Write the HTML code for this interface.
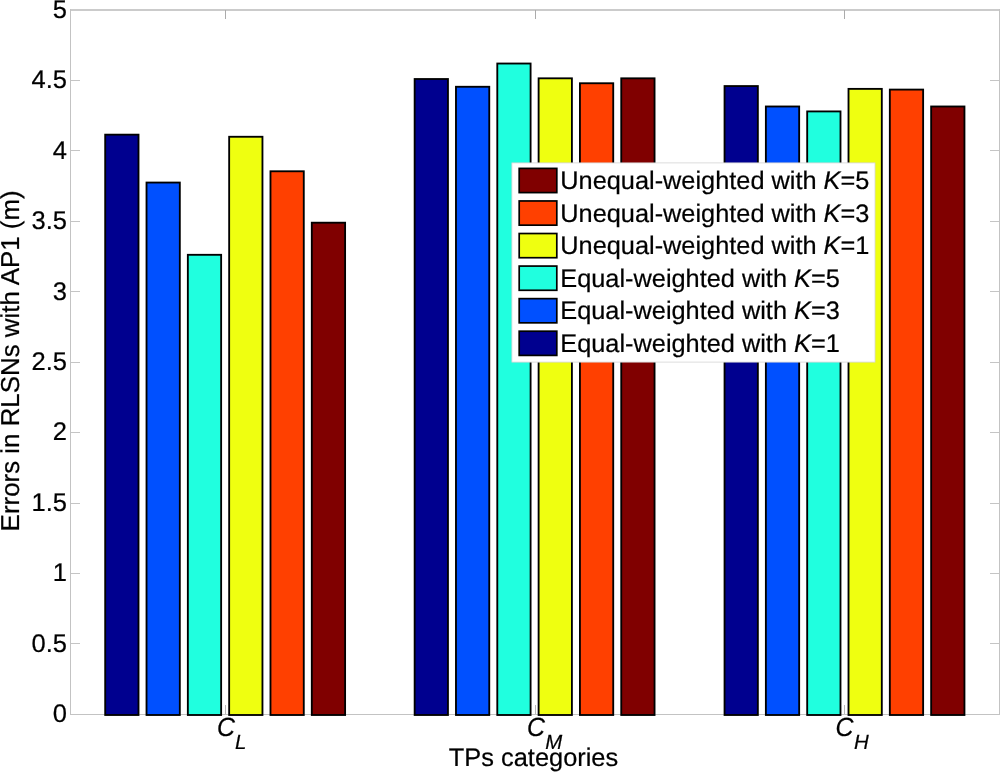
<!DOCTYPE html>
<html><head><meta charset="utf-8"><title>Errors in RLSNs with AP1</title>
<style>html,body{margin:0;padding:0;background:#fff;}svg{display:block;}text{font-family:'Liberation Sans', sans-serif;fill:#000;stroke:#000;stroke-width:0.22px;text-rendering:geometricPrecision;}</style></head><body>
<svg width="1000" height="772" viewBox="0 0 1000 772">
<rect x="0" y="0" width="1000" height="772" fill="#fff"/>
<g shape-rendering="crispEdges" stroke="none">
<rect x="70" y="9" width="930" height="2" fill="#cbcbcb"/>
<rect x="70" y="9" width="1" height="706" fill="#c3c3c3"/>
<rect x="999" y="9" width="1" height="706" fill="#c3c3c3"/>
<rect x="70" y="714" width="930" height="1" fill="#c3c3c3"/>
<rect x="71" y="643" width="9" height="1" fill="#c5c5c5"/>
<rect x="990" y="643" width="9" height="1" fill="#c5c5c5"/>
<rect x="71" y="573" width="9" height="1" fill="#c5c5c5"/>
<rect x="990" y="573" width="9" height="1" fill="#c5c5c5"/>
<rect x="71" y="503" width="9" height="1" fill="#c5c5c5"/>
<rect x="990" y="503" width="9" height="1" fill="#c5c5c5"/>
<rect x="71" y="432" width="9" height="1" fill="#c5c5c5"/>
<rect x="990" y="432" width="9" height="1" fill="#c5c5c5"/>
<rect x="71" y="362" width="9" height="1" fill="#c5c5c5"/>
<rect x="990" y="362" width="9" height="1" fill="#c5c5c5"/>
<rect x="71" y="291" width="9" height="1" fill="#c5c5c5"/>
<rect x="990" y="291" width="9" height="1" fill="#c5c5c5"/>
<rect x="71" y="221" width="9" height="1" fill="#c5c5c5"/>
<rect x="990" y="221" width="9" height="1" fill="#c5c5c5"/>
<rect x="71" y="150" width="9" height="1" fill="#c5c5c5"/>
<rect x="990" y="150" width="9" height="1" fill="#c5c5c5"/>
<rect x="71" y="80" width="9" height="1" fill="#c5c5c5"/>
<rect x="990" y="80" width="9" height="1" fill="#c5c5c5"/>
<rect x="225" y="705" width="1" height="9" fill="#b8b8b8"/>
<rect x="225" y="10" width="1" height="9" fill="#ababab"/>
<rect x="535" y="705" width="1" height="9" fill="#b8b8b8"/>
<rect x="535" y="10" width="1" height="9" fill="#ababab"/>
<rect x="844" y="705" width="1" height="9" fill="#b8b8b8"/>
<rect x="844" y="10" width="1" height="9" fill="#ababab"/>
</g>
<g stroke="#000" stroke-width="1.85" stroke-linejoin="miter">
<rect x="105.20" y="134.66" width="33.30" height="580.34" fill="#00008f"/>
<rect x="146.52" y="182.55" width="33.30" height="532.45" fill="#0050ff"/>
<rect x="187.84" y="254.81" width="33.30" height="460.19" fill="#20ffdf"/>
<rect x="229.16" y="136.77" width="33.30" height="578.23" fill="#efff10"/>
<rect x="270.48" y="171.28" width="33.30" height="543.72" fill="#ff4000"/>
<rect x="311.80" y="222.70" width="33.30" height="492.30" fill="#800000"/>
<rect x="414.65" y="79.02" width="33.30" height="635.98" fill="#00008f"/>
<rect x="455.97" y="86.77" width="33.30" height="628.23" fill="#0050ff"/>
<rect x="497.29" y="63.53" width="33.30" height="651.47" fill="#20ffdf"/>
<rect x="538.61" y="78.32" width="33.30" height="636.68" fill="#efff10"/>
<rect x="579.93" y="83.25" width="33.30" height="631.75" fill="#ff4000"/>
<rect x="621.25" y="78.32" width="33.30" height="636.68" fill="#800000"/>
<rect x="724.55" y="86.06" width="33.30" height="628.94" fill="#00008f"/>
<rect x="765.87" y="106.49" width="33.30" height="608.51" fill="#0050ff"/>
<rect x="807.19" y="111.42" width="33.30" height="603.58" fill="#20ffdf"/>
<rect x="848.51" y="88.88" width="33.30" height="626.12" fill="#efff10"/>
<rect x="889.83" y="89.59" width="33.30" height="625.41" fill="#ff4000"/>
<rect x="931.15" y="106.49" width="33.30" height="608.51" fill="#800000"/>
</g>
<text x="67.00" y="722.10" font-size="25.50" text-anchor="end">0</text>
<text x="67.00" y="651.67" font-size="25.50" text-anchor="end">0.5</text>
<text x="67.00" y="581.24" font-size="25.50" text-anchor="end">1</text>
<text x="67.00" y="510.81" font-size="25.50" text-anchor="end">1.5</text>
<text x="67.00" y="440.38" font-size="25.50" text-anchor="end">2</text>
<text x="67.00" y="369.95" font-size="25.50" text-anchor="end">2.5</text>
<text x="67.00" y="299.52" font-size="25.50" text-anchor="end">3</text>
<text x="67.00" y="229.09" font-size="25.50" text-anchor="end">3.5</text>
<text x="67.00" y="158.66" font-size="25.50" text-anchor="end">4</text>
<text x="67.00" y="88.23" font-size="25.50" text-anchor="end">4.5</text>
<text x="67.00" y="17.80" font-size="25.50" text-anchor="end">5</text>
<text transform="translate(216.90 736.25) scale(0.975 1.03)" font-size="25.50" font-style="italic">C</text>
<text x="234.90" y="749.00" font-size="20.4" font-style="italic">L</text>
<text transform="translate(527.10 736.25) scale(0.975 1.03)" font-size="25.50" font-style="italic">C</text>
<text x="545.25" y="749.00" font-size="20.4" font-style="italic">M</text>
<text transform="translate(835.40 736.25) scale(0.975 1.03)" font-size="25.50" font-style="italic">C</text>
<text x="853.90" y="749.00" font-size="20.4" font-style="italic">H</text>
<text x="533.50" y="766.30" font-size="25.40" text-anchor="middle">TPs categories</text>
<text transform="translate(19.00 360.90) rotate(-90)" font-size="25.90" text-anchor="middle">Errors in RLSNs with AP1 (m)</text>
<rect x="511.90" y="162.90" width="363.10" height="199.20" fill="#fff" stroke="#d4d4d4" stroke-width="0.8"/>
<rect x="519.20" y="168.40" width="37.60" height="24.20" fill="#800000" stroke="#000" stroke-width="1.7"/>
<text x="560.30" y="189.30" font-size="25.33">Unequal-weighted with <tspan font-style="italic">K</tspan>=5</text>
<rect x="519.20" y="200.96" width="37.60" height="24.20" fill="#ff4000" stroke="#000" stroke-width="1.7"/>
<text x="560.30" y="221.82" font-size="25.33">Unequal-weighted with <tspan font-style="italic">K</tspan>=3</text>
<rect x="519.20" y="233.52" width="37.60" height="24.20" fill="#efff10" stroke="#000" stroke-width="1.7"/>
<text x="560.30" y="254.34" font-size="25.33">Unequal-weighted with <tspan font-style="italic">K</tspan>=1</text>
<rect x="519.20" y="266.08" width="37.60" height="24.20" fill="#20ffdf" stroke="#000" stroke-width="1.7"/>
<text x="560.30" y="286.86" font-size="25.33">Equal-weighted with <tspan font-style="italic">K</tspan>=5</text>
<rect x="519.20" y="298.64" width="37.60" height="24.20" fill="#0050ff" stroke="#000" stroke-width="1.7"/>
<text x="560.30" y="319.38" font-size="25.33">Equal-weighted with <tspan font-style="italic">K</tspan>=3</text>
<rect x="519.20" y="331.20" width="37.60" height="24.20" fill="#00008f" stroke="#000" stroke-width="1.7"/>
<text x="560.30" y="351.90" font-size="25.33">Equal-weighted with <tspan font-style="italic">K</tspan>=1</text>
</svg></body></html>
